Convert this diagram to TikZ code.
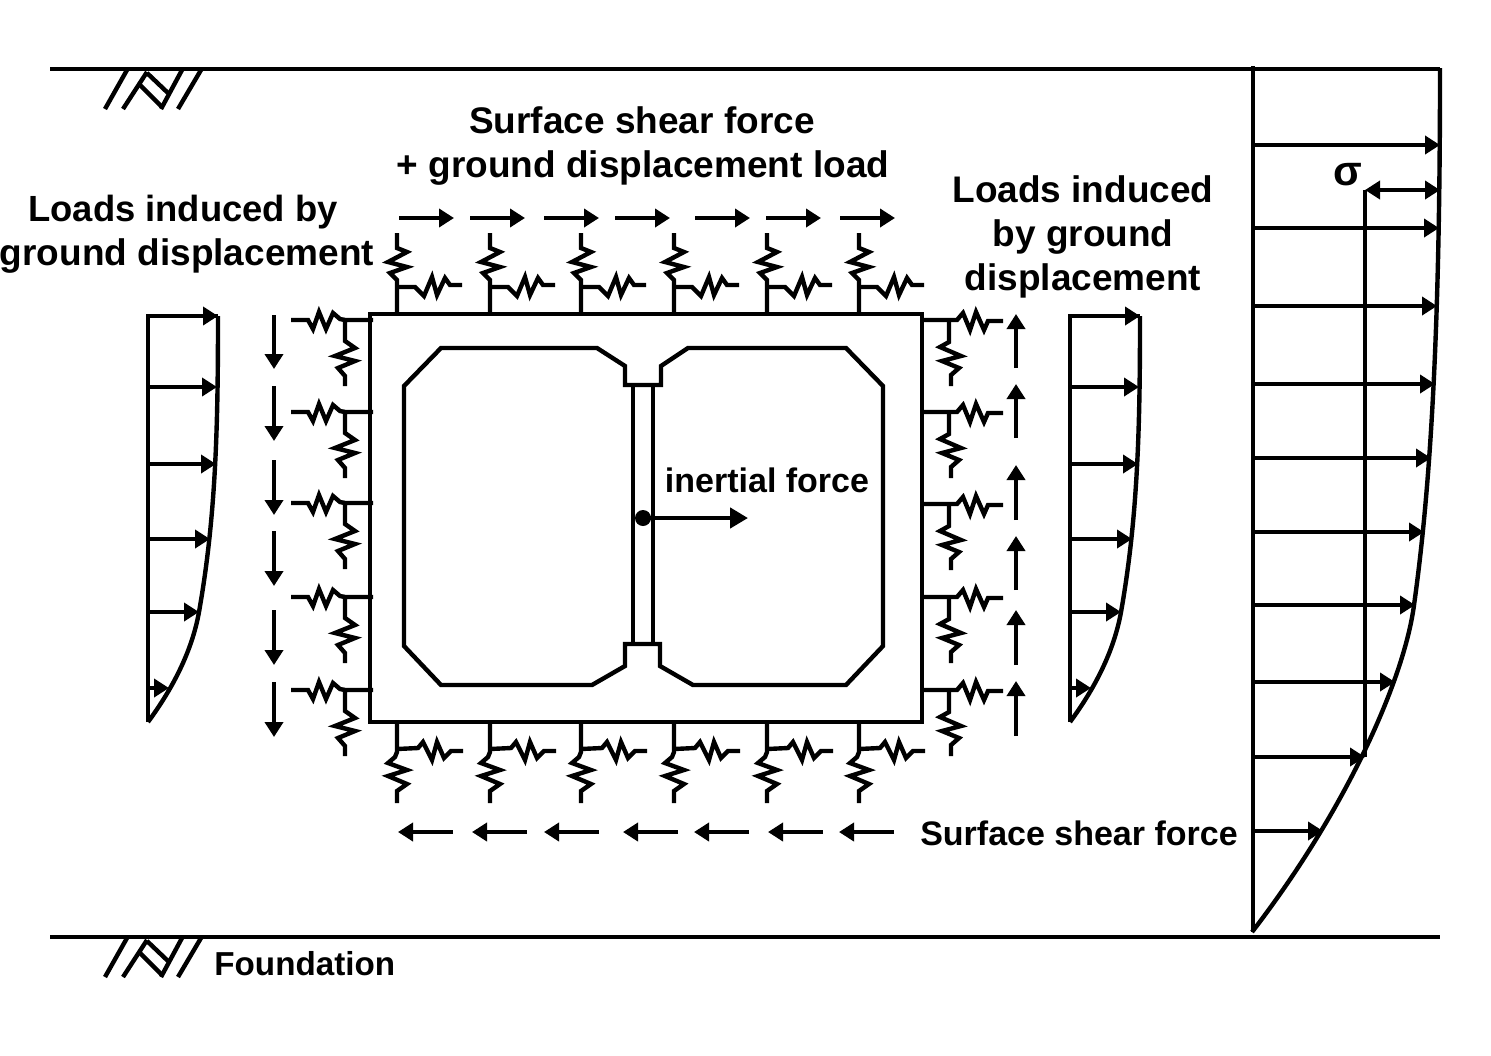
\documentclass[tikz,border=0pt]{standalone}
\usepackage{fontspec}
\setmainfont{Liberation Sans}
\usetikzlibrary{arrows.meta}

\tikzset{
	thick line/.style={line width=2.2pt, line cap=butt, line join=miter},
	force/.style={line width=2.2pt, -{Triangle[length=7.5pt,width=9pt]}},
	big force/.style={line width=2.2pt, -{Triangle[length=9pt,width=10pt]}},
	label big/.style={font=\fontsize{18.5}{20}\selectfont\bfseries, inner sep=0pt, anchor=base},
	label small/.style={font=\fontsize{17}{20}\selectfont\bfseries, inner sep=0pt, anchor=base},
	ground/.pic={
		\draw[thick line] (-43,40) -- (-21,1);
		\draw[thick line] (-25,40) -- (-1,3);
		\draw[thick line] (13,40) -- (34,1);
		\draw[thick line] (30,40) -- (53,1);
		\draw[thick line] (-1,4) -- (20,24);
		\draw[thick line] (-8,16) -- (14,38);
	},
	ubranch/.pic={
		\draw[thick line] (0,0) -- (0,-34) -- (-7,-41) -- (10,-47) -- (-9,-52) -- (10,-62) -- (0,-66) -- (0,-81);
		\draw[thick line] (0,-27) -- (18,-27) -- (27,-18) -- (35,-37) -- (40,-19) -- (48,-36) -- (53,-29) -- (65,-29);
	},
	dbranch/.pic={
		\draw[thick line] (0,0) -- (0,30) -- (-2,35) -- (-9,41) -- (10,48) -- (-9,54) -- (10,62) -- (0,69) -- (0,81);
		\draw[thick line] (0,27) -- (21,26) -- (26,20) -- (35,38) -- (40,20) -- (47,36) -- (54,29) -- (66,29);
	},
	lbranch/.pic={
		\draw[thick line] (2,0) -- (-26,0) -- (-26,21) -- (-16,28) -- (-36,36) -- (-16,41) -- (-33,48) -- (-26,56) -- (-26,66);
		\draw[thick line] (-26,0) -- (-31,-1) -- (-38,-7) -- (-45,9) -- (-52,-8) -- (-58,9) -- (-63,0) -- (-80,0);
	},
	rbranch/.pic={
		\draw[thick line] (0,0) -- (35,0) -- (41,-7) -- (48,10) -- (54,-8) -- (62,10) -- (66,1) -- (81,1);
		\draw[thick line] (27,0) -- (27,22) -- (18,27) -- (39,36) -- (20,41) -- (37,48) -- (29,55) -- (29,66);
	},
	loadshape/.pic={
		\draw[thick line] (0,406) -- (0,0) -- (70,0);
		\draw[thick line] (70,0) .. controls (70,110) and (68,200) .. (51,296) .. controls (44,335) and (25,372) .. (0,406);
		\draw[force] (0,0) -- (70,0);
		\draw[force] (0,71) -- (69,71);
		\draw[force] (0,148) -- (68,148);
		\draw[force] (0,223) -- (62,223);
		\draw[force] (0,296) -- (51,296);
		\draw[force] (0,372) -- (21,372);
	},
}

\begin{document}
\begin{tikzpicture}[x=0.5pt,y=-0.5pt]
\useasboundingbox (0,0) rectangle (1491,1055);

% ground and foundation
\draw[thick line] (50,69) -- (1440,69);
\draw[thick line] (50,937) -- (1440,937);
\pic at (148,69) {ground};
\pic at (148,937) {ground};
\node[label small, font=\fontsize{16.6}{20}\selectfont\bfseries, anchor=base west] (foundation) at (214,975) {Foundation};

% tunnel section
\draw[thick line] (370,314) rectangle (922,722);
\draw[thick line] (441,348) -- (597,348) -- (625,366) -- (625,385) -- (661,385) -- (661,366) -- (688,348) -- (846,348) -- (883,386) -- (883,646) -- (846,685) -- (693,685) -- (660,666) -- (660,644) -- (625,644) -- (625,666) -- (592,685) -- (441,685) -- (404,646) -- (404,386) -- cycle;
\draw[thick line] (633,385) -- (633,644);
\draw[thick line] (653,385) -- (653,644);
\fill (643,518) circle (8);
\draw[big force] (643,518) -- (748,518);
\node[label small] (inertia) at (767,492) {inertial force};

% springs on top
\pic at (397,314) {ubranch};
\pic at (490,314) {ubranch};
\pic at (581,314) {ubranch};
\pic at (674,314) {ubranch};
\pic at (767,314) {ubranch};
\pic at (859,314) {ubranch};

% springs below
\pic at (397,722) {dbranch};
\pic at (490,722) {dbranch};
\pic at (581,722) {dbranch};
\pic at (674,722) {dbranch};
\pic at (767,722) {dbranch};
\pic at (859,722) {dbranch};

% springs left
\pic at (371,320) {lbranch};
\pic at (371,412) {lbranch};
\pic at (371,503) {lbranch};
\pic at (371,597) {lbranch};
\pic at (371,690) {lbranch};

% springs right
\pic at (922,320) {rbranch};
\pic at (922,412) {rbranch};
\pic at (922,504) {rbranch};
\pic at (922,597) {rbranch};
\pic at (922,690) {rbranch};

% arrows on top
\draw[force] (399,218) -- (454,218);
\draw[force] (470,218) -- (525,218);
\draw[force] (544,218) -- (599,218);
\draw[force] (615,218) -- (670,218);
\draw[force] (695,218) -- (750,218);
\draw[force] (766,218) -- (821,218);
\draw[force] (840,218) -- (895,218);

% arrows below
\draw[force] (453,832) -- (398,832);
\draw[force] (527,832) -- (472,832);
\draw[force] (599,832) -- (544,832);
\draw[force] (678,832) -- (623,832);
\draw[force] (749,832) -- (694,832);
\draw[force] (823,832) -- (768,832);
\draw[force] (894,832) -- (839,832);

% arrows left
\draw[force] (274,315) -- (274,369);
\draw[force] (274,386) -- (274,441);
\draw[force] (274,460) -- (274,515);
\draw[force] (274,531) -- (274,586);
\draw[force] (274,610) -- (274,665);
\draw[force] (274,682) -- (274,737);

% arrows right
\draw[force] (1016,368) -- (1016,314);
\draw[force] (1016,438) -- (1016,384);
\draw[force] (1016,520) -- (1016,465);
\draw[force] (1016,590) -- (1016,536);
\draw[force] (1016,665) -- (1016,610);
\draw[force] (1016,736) -- (1016,681);

% displacement loads
\pic at (148,316) {loadshape};
\pic at (1070,316) {loadshape};

% stress on the right
\draw[thick line] (1253,66) -- (1253,932);
\draw[thick line] (1440,68) .. controls (1440,300) and (1433,470) .. (1414,605) .. controls (1404,680) and (1346,810) .. (1252,932);
\draw[force] (1253,145) -- (1440,145);
\draw[force] (1253,228) -- (1439,228);
\draw[force] (1253,306) -- (1437,306);
\draw[force] (1253,384) -- (1435,384);
\draw[force] (1253,458) -- (1431,458);
\draw[force] (1253,532) -- (1424,532);
\draw[force] (1253,605) -- (1415,605);
\draw[force] (1253,682) -- (1395,682);
\draw[force] (1253,757) -- (1365,757);
\draw[force] (1253,831) -- (1323,831);
\draw[thick line] (1365,190) -- (1365,757);
\draw[line width=2.2pt, {Triangle[length=7.5pt,width=9pt]}-{Triangle[length=7.5pt,width=9pt]}] (1365,190) -- (1440,190);
\node[label big, font=\fontsize{21}{22}\selectfont\bfseries] (sigma) at (1348,185) {σ};

% labels
\node[label big] (surfacetop) at (642,133) {Surface shear force};
\node[label big] (groundtop) at (643,177) {+ ground displacement load};
\node[label big, font=\fontsize{18.2}{20}\selectfont\bfseries] (leftone) at (183,221) {Loads induced by};
\node[label big] (lefttwo) at (187,265) {ground displacement};
\node[label big] (rightone) at (1083,202) {Loads induced};
\node[label big] (righttwo) at (1083,246) {by ground};
\node[label big] (rightthree) at (1083,290) {displacement};
\node[label small] (surfaceright) at (1079,845) {Surface shear force};
\end{tikzpicture}
\end{document}
